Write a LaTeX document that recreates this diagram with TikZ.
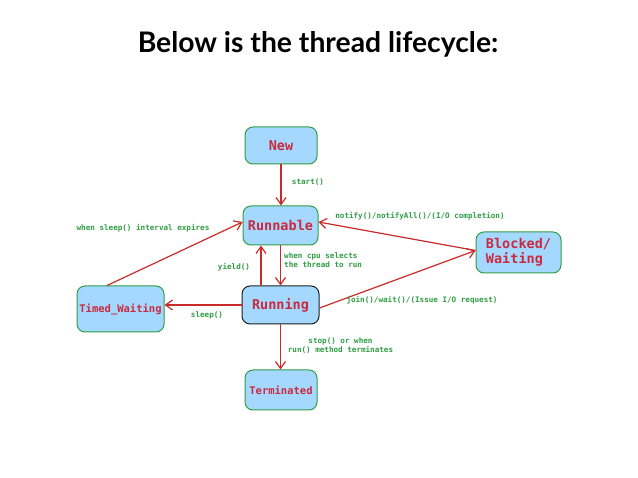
\documentclass[tikz,border=0pt]{standalone}
\usepackage{fontspec}
\setmainfont{Lato}
\setmonofont{DejaVu Sans Mono}
\usetikzlibrary{arrows.meta}
\definecolor{boxfill}{HTML}{A5D8FF}
\definecolor{boxline}{HTML}{2F9E44}
\definecolor{txtred}{HTML}{C92A3E}
\definecolor{arrred}{HTML}{C92A2A}
\definecolor{lblgreen}{HTML}{2F9E44}
\definecolor{darkline}{HTML}{1E1E1E}
\begin{document}
\begin{tikzpicture}[x=1pt,y=-1pt,
  state/.style={draw=boxline, fill=boxfill, rounded corners=8pt, line width=1pt, inner sep=0pt,
    text=txtred, font=\ttfamily\bfseries\fontsize{13.5}{15.5}\selectfont},
  smallstate/.style={state, font=\ttfamily\bfseries\fontsize{10.5}{12}\selectfont},
  lbl/.style={text=lblgreen, font=\ttfamily\bfseries\fontsize{7.6}{9}\selectfont, inner sep=0pt},
  arr/.style={draw=arrred, line width=1.2pt, -{Straight Barb[length=7pt,width=10pt]}}]
\useasboundingbox (0,0) rectangle (638,478);
\fill[white] (0,0) rectangle (638,478);
\node[anchor=base, font=\bfseries\fontsize{28.3}{34}\selectfont] (title) at (318,52.5) {Below is the thread lifecycle:};

\node[state, minimum width=72pt, minimum height=37pt] (new) at (281,145.5) {New};
\node[state, minimum width=75pt, minimum height=39pt] (runnable) at (280.5,225.5) {Runnable};
\node[state, minimum width=85pt, minimum height=41pt, align=left] (blocked) at (518.5,252.5) {Blocked/\\ Waiting};
\node[state, draw=darkline, minimum width=77pt, minimum height=38pt] (running) at (280.5,305) {Running};
\node[smallstate, minimum width=87pt, minimum height=46pt] (timed) at (120.5,309) {Timed\_Waiting};
\node[smallstate, minimum width=72pt, minimum height=40pt] (term) at (281,390) {Terminated};

\draw[arr] (new.south) -- (new.south |- runnable.north);
\draw[arr] (runnable.south) -- (runnable.south |- running.north);
\draw[arr] ([xshift=-19.5pt]running.north) -- ([xshift=-19.5pt]running.north |- runnable.south);
\draw[arr] (running.south) -- (running.south |- term.north);
\draw[arr] (running.west) -- (running.west -| timed.east);
\draw[arr] ([xshift=-13.5pt]timed.north) -- ([yshift=3.5pt]runnable.west);
\draw[arr] ([yshift=2pt]blocked.west) -- ([yshift=3.5pt]runnable.east);
\draw[arr] ([yshift=-3pt]running.east) -- ([yshift=2pt]blocked.west);

\node[lbl] (l1) at (308,182) {start()};
\node[lbl] (l2) at (143,228) {when sleep() interval expires};
\node[lbl] (l3) at (234,267) {yield()};
\node[lbl, anchor=west, align=left] (l4) at (284,260.5) {when cpu selects\\the thread to run};
\node[lbl] (l5) at (420,216) {notify()/notifyAll()/(I/O completion)};
\node[lbl] (l6) at (422,300) {join()/wait()/(Issue I/O request)};
\node[lbl] (l7) at (207,315) {sleep()};
\node[lbl, align=center] (l8) at (340.5,345.5) {stop() or when\\run() method terminates};
\end{tikzpicture}
\end{document}
